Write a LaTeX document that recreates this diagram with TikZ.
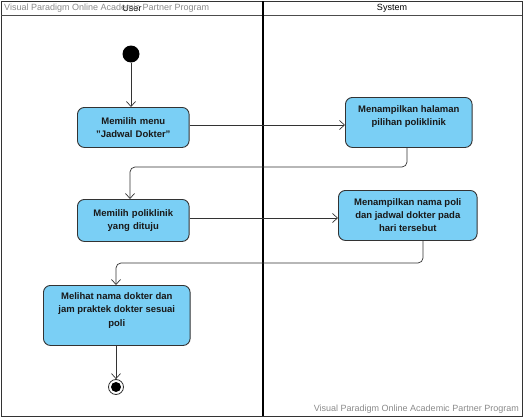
\documentclass[tikz,border=0pt]{standalone}
\usepackage{fontspec}
\setmainfont{Liberation Sans}
\usetikzlibrary{arrows.meta}
\definecolor{actfill}{HTML}{7ACFF5}
\definecolor{actdraw}{HTML}{333333}
\definecolor{wm}{HTML}{8A8A8A}
\begin{document}
\begin{tikzpicture}[x=1pt,y=-1pt,
  act/.style={draw=actdraw,fill=actfill,rounded corners=7pt,line width=0.9pt,
    font=\fontsize{9.5}{12.5}\selectfont\bfseries,align=center,text=black!90,anchor=north west},
  acttext/.style={font=\fontsize{9.5}{12.8}\selectfont\bfseries,align=center,text=black!90,anchor=north},
  flow/.style={draw=black!80,line width=0.7pt,rounded corners=5pt,-{Straight Barb[length=5pt,width=9pt]}},
  wmark/.style={text=wm,font=\fontsize{9}{10}\selectfont,inner sep=0pt},
  hdr/.style={font=\fontsize{9}{10}\selectfont,inner sep=0pt}]
\useasboundingbox (0,0) rectangle (523,418);
% frame
\draw[line width=1pt,black!80] (1,1) rectangle (522,416);
\draw[line width=0.8pt,black!70] (1,15) -- (522,15);
\draw[line width=2pt,black] (263,1) -- (263,416);
\node[hdr] (hu) at (132,8) {User};
\node[hdr] (hs) at (392,8) {System};
\node[wmark,anchor=west] (wm1) at (4,8.5) {Visual Paradigm Online Academic Partner Program};
\node[wmark,anchor=east] (wm2) at (519,409) {Visual Paradigm Online Academic Partner Program};
% nodes
\node[circle,fill=black,minimum size=17pt,inner sep=0pt] (start) at (131,54) {};
\node[act,minimum width=111pt,minimum height=40pt,text width=105pt] (a1) at (77,107) {Memilih menu\\"Jadwal Dokter"};
\node[act,minimum width=125pt,minimum height=50pt,text width=120pt] (a2) at (345,97) {};
\node[acttext] (a2t) at ([yshift=-5pt]a2.north) {Menampilkan halaman\\pilihan poliklinik};
\node[act,minimum width=111pt,minimum height=42pt,text width=105pt] (a3) at (77,199) {Memilih poliklinik\\yang dituju};
\node[act,minimum width=138pt,minimum height=50pt,text width=132pt] (a4) at (338,190) {};
\node[acttext] (a4t) at ([yshift=-5pt]a4.north) {Menampilkan nama poli\\dan jadwal dokter pada\\hari tersebut};
\node[act,minimum width=145pt,minimum height=60pt,text width=140pt] (a5) at (43,285) {};
\node[acttext,font=\fontsize{9.5}{13.5}\selectfont\bfseries] (a5t) at ([yshift=-4pt]a5.north) {Melihat nama dokter dan\\jam praktek dokter sesuai\\poli};
\node[circle,draw=black!80,line width=0.8pt,fill=white,minimum size=15pt,inner sep=0pt] (end) at (116,387) {};
\node[circle,fill=black,minimum size=10pt,inner sep=0pt] (endin) at (end) {};
% flows
\draw[flow] (start) -- (a1.north -| start);
\draw[flow] (a1.east |- 0,125) -- (a2.west |- 0,125);
\coordinate (c2) at (407,167);
\draw[flow] (a2.south -| c2) -- (c2) -- (130,167) -- (a3.north -| 130,0);
\draw[flow] (a3.east |- 0,218) -- (a4.west |- 0,218);
\coordinate (c4) at (423,263);
\draw[flow] (a4.south -| c4) -- (c4) -- (116,263) -- (a5.north -| 116,0);
\draw[flow] (a5.south -| 116,0) -- (end);
\end{tikzpicture}
\end{document}
